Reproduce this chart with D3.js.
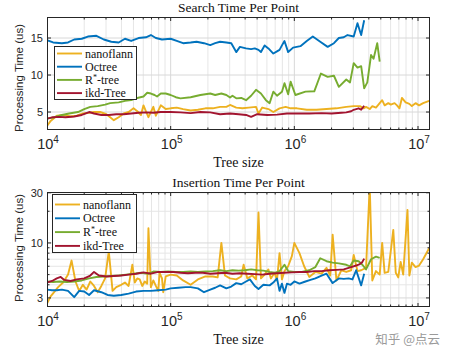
<!DOCTYPE html>
<html><head><meta charset="utf-8">
<script src="https://cdn.jsdelivr.net/npm/d3@7"></script>
<style>
html,body{margin:0;padding:0;background:#fff;}
svg{display:block;}
</style></head>
<body>
<svg id="chart" width="452" height="354"></svg>
<script>
// ---------------- DATA ----------------
const seriesNames = ["nanoflann", "Octree", "R*-tree", "ikd-Tree"];
const seriesColors = ["#EDB120", "#0072BD", "#77AC30", "#A2142F"];
const xTickValues = [1e4, 1e5, 1e6, 1e7];
const xTickExponents = ["4", "5", "6", "7"];
const searchYTicks = [5, 10, 15];
const insertYTicks = [3, 10, 30];

// Search time per point (us)
const searchNanoflannN = [1.00e4,1.07e4,1.20e4,1.38e4,1.55e4,1.74e4,1.95e4,2.19e4,2.40e4,2.69e4,3.02e4,3.24e4,3.47e4,3.80e4,4.17e4,4.57e4,5.01e4,5.37e4,5.75e4,6.03e4,6.31e4,6.61e4,6.92e4,7.24e4,7.59e4,7.94e4,8.32e4,9.12e4,1.00e5,1.12e5,1.26e5,1.45e5,1.66e5,1.91e5,2.19e5,2.51e5,2.82e5,3.02e5,3.39e5,3.80e5,4.27e5,4.90e5,5.13e5,5.50e5,6.17e5,6.76e5,7.59e5,8.51e5,9.33e5,1.05e6,1.26e6,1.51e6,1.82e6,2.19e6,2.63e6,3.02e6,3.39e6,3.63e6,3.80e6,4.07e6,4.27e6,4.57e6,4.79e6,5.13e6,5.37e6,5.75e6,6.03e6,6.46e6,6.76e6,7.08e6,7.41e6,7.94e6,8.51e6,8.91e6,9.55e6,1.02e7,1.10e7,1.23e7];
const searchNanoflann  = [3.1,3.8,4.5,4.6,4.4,4.5,4.8,4.9,5.0,5.0,4.7,4.3,3.9,4.3,4.8,5.0,5.5,5.1,4.6,5.9,5.1,4.3,5.0,5.7,4.5,5.2,5.9,5.4,5.5,5.6,5.4,5.2,5.3,5.5,5.5,5.7,5.7,5.95,5.6,5.5,5.6,5.7,4.8,5.6,5.4,5.0,5.5,5.7,5.5,5.5,5.3,5.3,5.4,5.5,5.7,5.8,5.8,5.5,5.7,5.4,5.8,5.6,6.0,6.6,5.9,6.2,6.0,6.2,5.9,5.5,6.9,6.3,6.1,5.8,6.2,5.9,6.2,6.5];

const searchOctreeN = [1.00e4,1.12e4,1.32e4,1.48e4,1.66e4,1.91e4,2.14e4,2.51e4,2.88e4,3.31e4,3.80e4,4.27e4,4.79e4,5.50e4,6.31e4,6.92e4,7.59e4,8.51e4,1.00e5,1.12e5,1.26e5,1.45e5,1.62e5,1.86e5,2.09e5,2.29e5,2.51e5,2.82e5,3.09e5,3.39e5,3.63e5,4.07e5,4.47e5,4.79e5,5.13e5,5.37e5,5.75e5,6.17e5,6.76e5,7.24e5,7.59e5,7.94e5,8.32e5,8.91e5,9.77e5,1.12e6,1.26e6,1.41e6,1.62e6,1.86e6,2.09e6,2.29e6,2.51e6,2.69e6,3.02e6,3.24e6,3.47e6,3.67e6];
const searchOctree  = [14.7,14.4,14.3,14.4,14.8,14.9,15.2,15.3,14.8,14.5,14.4,14.9,14.6,15.0,15.1,15.4,15.0,14.8,14.9,14.6,14.3,14.4,14.5,14.3,14.05,14.3,14.5,14.4,14.3,13.1,13.8,13.6,13.5,13.6,13.4,13.1,14.0,13.6,12.9,13.2,13.4,14.0,14.6,13.1,13.7,13.9,14.6,15.2,14.5,13.8,14.3,15.0,15.1,15.4,15.2,17.0,15.4,17.4];

const searchRstarN = [1.00e4,1.15e4,1.32e4,1.51e4,1.78e4,2.00e4,2.24e4,2.57e4,2.95e4,3.24e4,3.80e4,4.27e4,4.79e4,5.37e4,6.03e4,6.46e4,6.92e4,7.41e4,7.76e4,8.32e4,9.12e4,1.00e5,1.10e5,1.20e5,1.45e5,1.74e5,2.09e5,2.29e5,2.57e5,2.82e5,3.02e5,3.16e5,3.39e5,3.72e5,4.07e5,4.47e5,4.90e5,5.37e5,5.89e5,6.31e5,6.76e5,7.24e5,7.94e5,8.32e5,8.91e5,9.33e5,1.02e6,1.23e6,1.45e6,1.64e6,1.86e6,2.09e6,2.29e6,2.63e6,2.82e6,3.02e6,3.24e6,3.47e6,3.67e6,3.89e6,4.17e6,4.37e6,4.68e6,4.90e6];
const searchRstar  = [4.1,4.3,4.6,4.8,5.0,5.4,5.7,5.8,6.0,6.2,6.3,6.5,6.6,6.9,7.1,7.6,7.5,7.3,7.1,7.5,7.5,7.3,7.0,6.85,7.0,7.3,7.5,7.3,7.5,7.3,6.95,7.2,6.85,6.9,6.6,7.2,8.0,7.5,6.6,6.2,7.75,7.2,7.75,8.9,7.4,9.1,7.3,7.75,7.8,10.2,9.75,9.9,8.4,9.4,9.0,11.6,11.0,11.2,8.2,9.0,12.7,12.2,14.3,11.8];

const searchIkdN = [1.00e4,1.12e4,1.26e4,1.41e4,1.66e4,1.91e4,2.19e4,2.40e4,2.75e4,3.16e4,3.63e4,4.17e4,4.79e4,5.50e4,6.31e4,7.24e4,8.32e4,1.00e5,1.20e5,1.45e5,1.74e5,2.09e5,2.51e5,3.02e5,3.55e5,4.07e5,4.47e5,5.01e5,6.03e5,7.24e5,8.71e5,1.05e6,1.32e6,1.66e6,2.00e6,2.40e6,2.63e6,2.88e6,3.02e6,3.31e6,3.47e6,3.67e6];
const searchIkd  = [4.1,4.3,4.35,4.3,4.4,4.6,5.0,4.8,4.6,4.6,4.7,4.7,4.8,4.9,4.95,4.9,5.0,5.0,4.95,4.85,5.0,4.95,4.7,4.8,4.7,4.6,4.35,4.7,4.6,4.65,4.8,4.8,4.8,4.85,4.8,4.9,4.95,5.1,5.3,5.5,5.3,5.85];

// Insertion time per point (us)
const insertNanoflannN = [1.00e4,1.07e4,1.15e4,1.23e4,1.35e4,1.48e4,1.58e4,1.70e4,1.82e4,1.95e4,2.09e4,2.24e4,2.40e4,2.57e4,2.75e4,2.95e4,3.16e4,3.39e4,3.63e4,3.98e4,4.27e4,4.57e4,4.90e4,5.13e4,5.37e4,5.62e4,5.89e4,6.17e4,6.46e4,6.61e4,6.92e4,7.24e4,7.59e4,7.94e4,8.13e4,8.51e4,8.71e4,9.12e4,1.00e5,1.12e5,1.26e5,1.45e5,1.66e5,1.91e5,2.19e5,2.40e5,2.57e5,2.75e5,3.02e5,3.39e5,3.72e5,3.89e5,4.17e5,4.57e5,4.90e5,5.13e5,5.37e5,5.75e5,6.17e5,6.46e5,6.92e5,7.24e5,7.59e5,7.94e5,8.32e5,8.91e5,9.55e5,1.00e6,1.10e6,1.20e6,1.32e6,1.48e6,1.66e6,1.82e6,1.95e6,2.04e6,2.19e6,2.40e6,2.63e6,2.88e6,3.02e6,3.24e6,3.47e6,3.80e6,4.07e6,4.27e6,4.57e6,4.90e6,5.13e6,5.37e6,5.75e6,6.31e6,6.61e6,6.92e6,7.24e6,7.59e6,8.22e6,8.51e6,8.91e6,9.55e6,1.02e7,1.10e7,1.23e7];
const insertNanoflann  = [2.65,3.1,3.45,3.8,4.2,5.0,6.8,4.3,3.5,4.0,3.6,4.3,3.9,3.4,3.9,4.6,8.3,3.5,3.8,4.0,4.2,3.9,6.2,4.2,4.6,4.5,3.9,4.3,4.1,13.8,3.8,4.4,3.9,3.5,5.2,4.6,3.4,4.8,5.0,4.9,4.4,4.0,4.5,4.8,4.8,4.7,10.0,4.9,4.6,4.5,4.8,6.2,4.6,4.9,4.5,19.5,4.6,5.0,5.6,4.6,5.2,4.4,8.0,4.5,5.4,6.0,7.5,10.0,8.0,6.0,4.75,5.3,5.1,5.8,4.9,12.0,4.4,5.5,5.3,5.5,7.7,5.4,5.5,5.8,35,4.4,5.4,5.0,10.0,5.2,5.3,13.3,5.2,4.7,6.6,5.0,20.6,4.9,6.5,5.9,6.1,7.0,8.9];

const insertOctreeN = [1.00e4,1.10e4,1.20e4,1.32e4,1.48e4,1.66e4,1.82e4,2.00e4,2.19e4,2.40e4,2.75e4,3.09e4,3.47e4,3.98e4,4.57e4,5.25e4,6.03e4,6.92e4,7.94e4,9.12e4,1.00e5,1.15e5,1.32e5,1.45e5,1.66e5,1.86e5,2.09e5,2.29e5,2.51e5,2.82e5,3.09e5,3.39e5,3.72e5,4.07e5,4.37e5,4.79e5,5.13e5,5.62e5,6.31e5,6.76e5,7.24e5,7.59e5,7.94e5,8.32e5,8.71e5,9.33e5,1.00e6,1.10e6,1.23e6,1.35e6,1.48e6,1.66e6,1.82e6,2.04e6,2.29e6,2.51e6,2.75e6,2.95e6,3.16e6,3.47e6,3.67e6];
const insertOctree  = [3.6,3.55,3.55,3.6,3.5,3.05,3.5,3.45,3.2,3.55,3.4,3.2,3.15,3.2,3.3,3.45,3.5,3.5,3.55,3.6,3.7,3.75,3.8,3.8,3.7,3.4,3.6,3.75,3.95,3.7,3.85,4.15,4.05,4.3,4.5,3.9,3.65,4.0,3.95,4.2,4.6,3.5,4.1,3.35,4.1,4.0,4.3,4.1,4.3,4.45,4.6,4.9,5.1,4.15,4.6,4.55,4.6,4.5,5.5,3.95,5.1];

const insertRstarN = [1.00e4,1.12e4,1.26e4,1.45e4,1.66e4,1.91e4,2.19e4,2.51e4,2.88e4,3.31e4,3.80e4,4.37e4,5.01e4,5.75e4,6.61e4,7.24e4,8.32e4,9.55e4,1.10e5,1.26e5,1.45e5,1.66e5,1.91e5,2.19e5,2.51e5,2.82e5,3.16e5,3.55e5,3.98e5,4.47e5,5.01e5,5.62e5,6.31e5,6.92e5,7.59e5,8.32e5,8.91e5,1.00e6,1.15e6,1.32e6,1.48e6,1.62e6,1.82e6,2.04e6,2.29e6,2.63e6,2.82e6,3.02e6,3.31e6,3.55e6,3.80e6,4.17e6,4.57e6,4.90e6];
const insertRstar  = [4.3,4.25,4.3,4.25,4.3,4.4,4.6,4.75,4.8,4.85,4.9,5.0,5.1,5.2,5.1,5.35,5.3,5.35,5.3,5.3,5.35,5.3,5.35,5.4,5.5,5.4,5.5,5.45,5.5,5.6,5.5,5.45,5.3,5.2,5.4,6.2,5.4,5.3,5.3,5.5,5.9,7.15,6.7,6.5,6.4,6.2,6.0,6.8,6.7,6.2,5.6,7.0,7.4,7.2];

const insertIkdN = [1.00e4,1.10e4,1.20e4,1.29e4,1.38e4,1.55e4,1.74e4,2.00e4,2.24e4,2.40e4,2.63e4,3.02e4,3.47e4,3.98e4,4.57e4,5.25e4,6.03e4,6.92e4,7.94e4,9.12e4,1.05e5,1.20e5,1.38e5,1.58e5,1.82e5,2.09e5,2.40e5,2.75e5,3.16e5,3.63e5,4.17e5,4.79e5,5.50e5,6.31e5,7.24e5,8.32e5,9.55e5,1.10e6,1.26e6,1.45e6,1.66e6,1.91e6,2.19e6,2.51e6,2.88e6,3.16e6,3.39e6,3.55e6,3.67e6];
const insertIkd  = [4.2,4.35,4.6,4.75,4.45,4.35,4.5,4.6,4.9,5.3,4.9,4.8,4.85,4.9,5.0,5.1,5.25,5.1,5.3,5.3,5.3,5.2,5.15,5.2,5.2,5.1,5.15,5.2,5.1,5.15,5.1,5.05,5.0,5.1,5.15,5.2,5.25,5.3,5.3,5.4,5.4,5.5,5.55,5.6,5.9,6.1,6.3,6.6,7.1];

// ---------------- DRAW ----------------
const svg = d3.select("#chart");
const serif = "'Liberation Serif','Times New Roman',serif";
const sans = "'Liberation Sans',Arial,Helvetica,sans-serif";
const frameColor = "#262626";

function drawPanel(cfg) {
  const {top, bottom, left, right, title, yScale, yTicks, yMinor, series, legend, id} = cfg;
  const x = d3.scaleLog().domain([1e4, 1.25e7]).range([left, right]);
  const g = svg.append("g");

  svg.append("defs").append("clipPath").attr("id", id)
    .append("rect").attr("x", left).attr("y", top).attr("width", right - left).attr("height", bottom - top);

  // x grid (major + minor)
  const xAll = [];
  for (let e = 4; e <= 7; e++) for (let m = 1; m <= 9; m++) { const v = m * Math.pow(10, e); if (v <= 1.25e7) xAll.push(v); }
  g.selectAll(".xg").data(xAll.filter(v => v > 1e4)).enter().append("line")
    .attr("x1", d => x(d)).attr("x2", d => x(d)).attr("y1", top).attr("y2", bottom)
    .attr("stroke", d => xTickValues.includes(d) ? "#d8d8d8" : "#e6e6e6").attr("stroke-width", 1);
  const yAll = yTicks.concat(yMinor);
  g.selectAll(".yg").data(yAll).enter().append("line")
    .attr("x1", left).attr("x2", right).attr("y1", d => yScale(d)).attr("y2", d => yScale(d))
    .attr("stroke", d => yTicks.includes(d) ? "#d8d8d8" : "#e6e6e6").attr("stroke-width", 1);

  // series
  const lineGen = d3.line().x(d => x(d[0])).y(d => yScale(d[1]));
  const lg = g.append("g").attr("clip-path", `url(#${id})`);
  series.forEach(s => {
    const pts = s.n.map((n, i) => [n, s.v[i]]);
    lg.append("path").datum(pts).attr("d", lineGen)
      .attr("fill", "none").attr("stroke", s.color).attr("stroke-width", 1.9)
      .attr("stroke-linejoin", "round");
  });

  // frame
  g.append("rect").attr("x", left + 0.5).attr("y", top + 0.5)
    .attr("width", right - left - 1).attr("height", bottom - top - 1)
    .attr("fill", "none").attr("stroke", frameColor).attr("stroke-width", 1);

  // inward ticks
  xAll.filter(v => v > 1e4).forEach(v => {
    const L = xTickValues.includes(v) ? 4 : 2.5;
    g.append("line").attr("x1", x(v)).attr("x2", x(v)).attr("y1", bottom).attr("y2", bottom - L).attr("stroke", frameColor);
    g.append("line").attr("x1", x(v)).attr("x2", x(v)).attr("y1", top).attr("y2", top + L).attr("stroke", frameColor);
  });
  yAll.forEach(v => {
    const L = yTicks.includes(v) ? 4 : 2.5;
    g.append("line").attr("y1", yScale(v)).attr("y2", yScale(v)).attr("x1", left).attr("x2", left + L).attr("stroke", frameColor);
    g.append("line").attr("y1", yScale(v)).attr("y2", yScale(v)).attr("x1", right).attr("x2", right - L).attr("stroke", frameColor);
  });

  // x tick labels 10^n
  xTickValues.forEach((v, i) => {
    const t = g.append("text").attr("x", x(v) + 1).attr("y", bottom + 19)
      .attr("text-anchor", "middle").attr("font-family", sans).attr("font-size", 14.5).attr("fill", "#262626");
    t.append("tspan").text("10");
    t.append("tspan").attr("dy", -6).attr("font-size", 10).text(xTickExponents[i]);
  });
  // y tick labels
  yTicks.forEach(v => {
    g.append("text").attr("x", left - 4).attr("y", yScale(v) + 4)
      .attr("text-anchor", "end").attr("font-family", sans).attr("font-size", 11).attr("fill", "#262626").text(v);
  });

  // title
  g.append("text").attr("x", (left + right) / 2).attr("y", top - 5)
    .attr("text-anchor", "middle").attr("font-family", serif).attr("font-size", 13.5).attr("fill", "#111").text(title);
  // x label
  g.append("text").attr("x", (left + right) / 2).attr("y", bottom + 37)
    .attr("text-anchor", "middle").attr("font-family", serif).attr("font-size", 14).attr("fill", "#111").text("Tree size");
  // y label
  g.append("text").attr("transform", `translate(${left - 24},${cfg.ylabelY}) rotate(-90)`)
    .attr("text-anchor", "middle").attr("font-family", sans).attr("font-size", 11.5).attr("fill", "#262626")
    .text("Processing Time (us)");

  // legend
  const lgd = g.append("g");
  lgd.append("rect").attr("x", legend.x + 0.5).attr("y", legend.y + 0.5).attr("width", legend.w).attr("height", legend.h)
    .attr("fill", "#fff").attr("stroke", frameColor).attr("stroke-width", 1);
  series.forEach((s, i) => {
    const cy = legend.y + legend.first + i * legend.step;
    lgd.append("line").attr("x1", legend.x + 3).attr("x2", legend.x + 28).attr("y1", cy).attr("y2", cy)
      .attr("stroke", s.color).attr("stroke-width", 1.9);
    const t = lgd.append("text").attr("x", legend.x + 31).attr("y", cy + 4)
      .attr("font-family", serif).attr("font-size", 12).attr("fill", "#111");
    if (s.name === "R*-tree") {
      t.append("tspan").text("R");
      t.append("tspan").attr("dy", -4).attr("font-size", 8).text("*");
      t.append("tspan").attr("dy", 4).text("-tree");
    } else t.text(s.name);
  });
}

const L = 47, R = 430;
const ySearch = d3.scaleLinear().domain([2.57, 17.84]).range([130, 17]);
drawPanel({
  id: "clipTop", top: 17, bottom: 130, left: L, right: R, title: "Search Time Per Point",
  yScale: ySearch, yTicks: searchYTicks, yMinor: [], ylabelY: 78,
  series: [
    {name: seriesNames[0], color: seriesColors[0], n: searchNanoflannN, v: searchNanoflann},
    {name: seriesNames[1], color: seriesColors[1], n: searchOctreeN, v: searchOctree},
    {name: seriesNames[2], color: seriesColors[2], n: searchRstarN, v: searchRstar},
    {name: seriesNames[3], color: seriesColors[3], n: searchIkdN, v: searchIkd}
  ],
  legend: {x: 54, y: 46, w: 82, h: 53, first: 7.5, step: 13.2}
});

const yInsert = d3.scaleLog().domain([2.46, 30.5]).range([307, 192]);
drawPanel({
  id: "clipBot", top: 192, bottom: 307, left: L, right: R, title: "Insertion Time Per Point",
  yScale: yInsert, yTicks: insertYTicks, yMinor: [4, 5, 6, 7, 8, 9, 20], ylabelY: 248,
  series: [
    {name: seriesNames[0], color: seriesColors[0], n: insertNanoflannN, v: insertNanoflann},
    {name: seriesNames[1], color: seriesColors[1], n: insertOctreeN, v: insertOctree},
    {name: seriesNames[2], color: seriesColors[2], n: insertRstarN, v: insertRstar},
    {name: seriesNames[3], color: seriesColors[3], n: insertIkdN, v: insertIkd}
  ],
  legend: {x: 52, y: 194, w: 84, h: 58, first: 10.5, step: 13.8}
});

// watermark
svg.append("text").attr("x", 440).attr("y", 344).attr("text-anchor", "end")
  .attr("font-family", "'Noto Sans CJK SC',sans-serif").attr("font-size", 12.5).attr("fill", "#9a9a9a")
  .text("知乎 @点云");
</script>
</body></html>
